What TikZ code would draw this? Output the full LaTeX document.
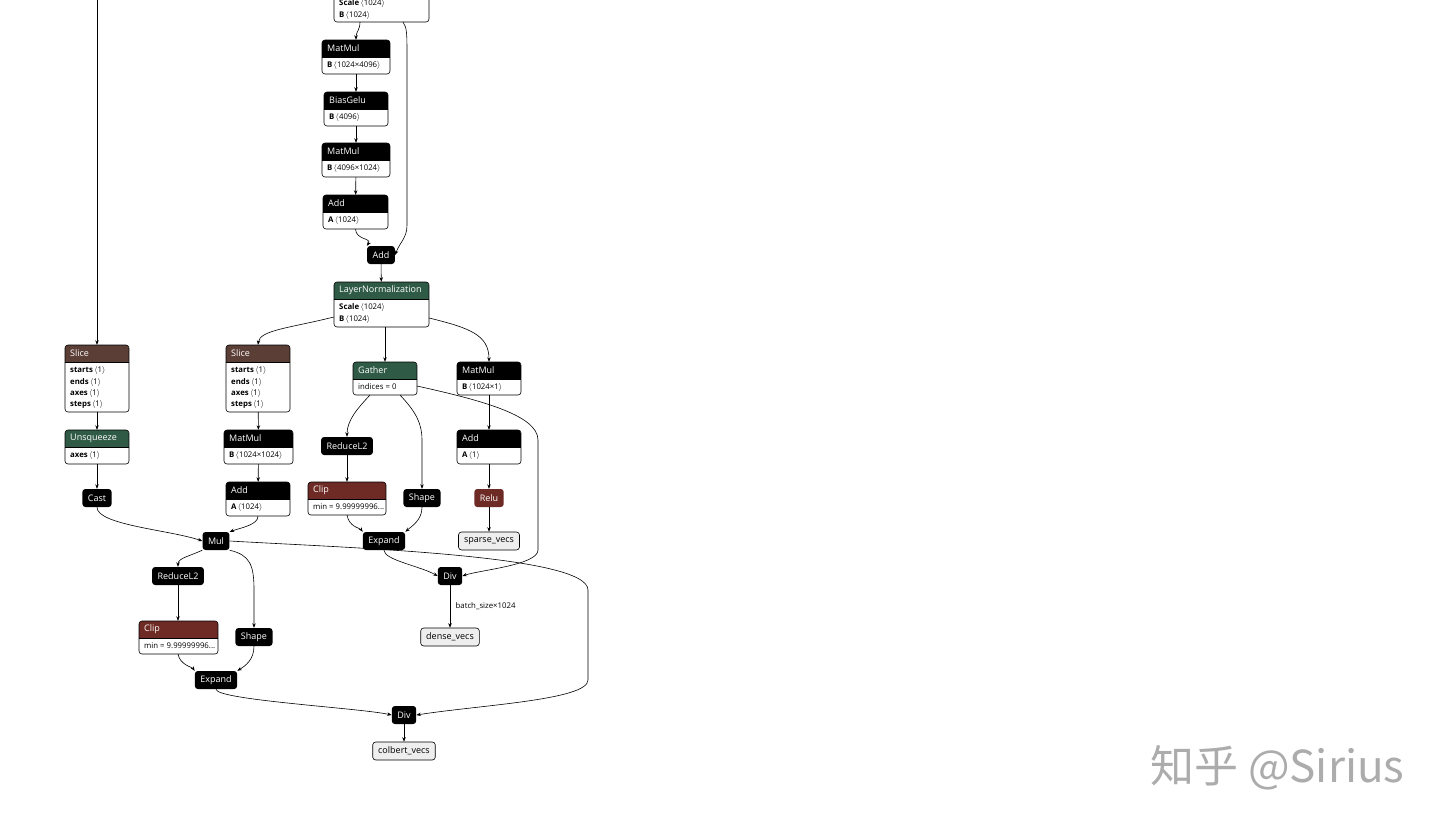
\documentclass[tikz,border=0pt]{standalone}
\usepackage{fontspec}
\setmainfont{Open Sans}
\newfontfamily\cjk{Noto Sans CJK SC}
\usetikzlibrary{fit,arrows.meta}
\definecolor{cslice}{HTML}{5B3F36}
\definecolor{cgreen}{HTML}{2F5A45}
\definecolor{cred}{HTML}{6E2A24}
\definecolor{cgrey}{HTML}{EEEEEE}
\newcommand\opbox[9]{%
 \begin{scope}
 \clip[rounded corners=3] (#2,#3) rectangle (#4,#6);
 \fill[#7] (#2,#3) rectangle (#4,#5);
 \fill[white] (#2,#5) rectangle (#4,#6);
 \end{scope}
 \draw[line width=0.6] (#2,#5)--(#4,#5);
 \draw[rounded corners=3,line width=0.6] (#2,#3) rectangle (#4,#6);
 \node[anchor=west,text=white,font=\fontsize{9}{10}\selectfont,inner sep=0] at ({#2+5},{(#3+#5)/2}) {#8};
 \node[anchor=north west,align=left,font=\fontsize{7.8}{11.3}\selectfont,inner sep=0] at ({#2+5},{#5+4.5}) {#9};
 \node[inner sep=0,fit={(#2,#3)(#4,#6)}] (#1) {};
}
\newcommand\at[2]{\textbf{#1}\,$\langle$#2$\rangle$}
\tikzset{
 sop/.style={fill=black,text=white,rounded corners=3,inner xsep=5.5pt,minimum height=18pt,inner ysep=0pt,font=\fontsize{9}{10}\selectfont},
 rop/.style={sop,fill=cred},
 io/.style={draw,fill=cgrey,rounded corners=3,inner xsep=5.5pt,minimum height=18pt,inner ysep=0pt,font=\fontsize{9}{10}\selectfont,line width=0.6},
 e/.style={-{Stealth[length=4.5pt,width=3.5pt]},line width=0.6}
}
\begin{document}
\begin{tikzpicture}[x=1pt,y=-1pt]
\useasboundingbox[fill=white] (0,0) rectangle (1440,827);
\opbox{ln0}{334}{-22}{429}{-5}{22}{cgreen}{LayerNormalization}{\at{Scale}{1024}\\\at{B}{1024}}
\opbox{mm1}{322}{40}{390}{57}{74}{black}{MatMul}{\at{B}{1024×4096}}
\opbox{bg}{324}{92}{388}{109}{126}{black}{BiasGelu}{\at{B}{4096}}
\opbox{mm2}{322}{143}{390}{160}{177}{black}{MatMul}{\at{B}{4096×1024}}
\opbox{add1}{323}{195}{388}{212}{229}{black}{Add}{\at{A}{1024}}
\node[sop] (add2) at (381,255) {Add};
\opbox{ln}{334}{282}{429}{299}{327}{cgreen}{LayerNormalization}{\at{Scale}{1024}\\\at{B}{1024}}
\opbox{sl1}{65}{345}{129}{362}{412}{cslice}{Slice}{\at{starts}{1}\\\at{ends}{1}\\\at{axes}{1}\\\at{steps}{1}}
\opbox{sl2}{226}{345}{290}{362}{412}{cslice}{Slice}{\at{starts}{1}\\\at{ends}{1}\\\at{axes}{1}\\\at{steps}{1}}
\opbox{unsq}{65}{430}{129}{447}{464}{cgreen}{Unsqueeze}{\at{axes}{1}}
\node[sop] (cast) at (97,498) {Cast};
\opbox{mm3}{224}{430}{293}{447}{464}{black}{MatMul}{\at{B}{1024×1024}}
\opbox{add3}{226}{482}{290}{499}{516}{black}{Add}{\at{A}{1024}}
\opbox{gat}{353}{362}{417}{379}{395}{cgreen}{Gather}{indices = 0}
\opbox{mm4}{457}{362}{521}{379}{395}{black}{MatMul}{\at{B}{1024×1}}
\node[sop] (rl1) at (347,446) {ReduceL2};
\opbox{clip1}{308}{482}{386}{499}{515}{cred}{Clip}{min = 9.99999996...}
\node[sop] (sh1) at (422,498) {Shape};
\opbox{add4}{457}{430}{521}{447}{464}{black}{Add}{\at{A}{1}}
\node[rop] (relu) at (489,498) {Relu};
\node[io] (sparse) at (489,541) {sparse\_vecs};
\node[sop] (exp1) at (384,541) {Expand};
\node[sop] (mul) at (216,541) {Mul};
\node[sop] (div1) at (450,576) {Div};
\node[io] (dense) at (450,637) {dense\_vecs};
\node[sop] (rl2) at (178,576) {ReduceL2};
\opbox{clip2}{139}{621}{218}{638}{654}{cred}{Clip}{min = 9.99999996...}
\node[sop] (sh2) at (254,637) {Shape};
\node[sop] (exp2) at (216,680) {Expand};
\node[sop] (div2) at (404,715) {Div};
\node[io] (colb) at (404,751) {colbert\_vecs};
\node[text=gray!65,font=\cjk\fontsize{44}{50}\selectfont,anchor=west,inner sep=0] at (1150,768) {知乎 @Sirius};
% edges
\coordinate (top) at (97,0);
\draw[e] (top) -- (sl1.north);
\draw[e] (360,22) .. controls (360,30) and (356,32) .. (mm1.north);
\draw[e] (403,22) .. controls (407,28) and (407,32) .. (407,60) -- (407,225) .. controls (407,238) and (400,242) .. (add2.east);
\draw[e] (mm1) -- (bg);
\draw[e] (bg) -- (mm2);
\draw[e] (mm2) -- (add1);
\draw[e] (add1.south) .. controls (356,240) and (372,238) .. (add2.north west);
\draw[e] (add2) -- (ln);
\draw[e] (ln.west |- 0,317) .. controls (290,328) and (260,330) .. (sl2.north);
\draw[e] (385,327) -- (gat.north -| 385,0);
\draw[e] (429,318) .. controls (470,328) and (489,335) .. (mm4.north);
\draw[e] (sl1) -- (unsq);
\draw[e] (unsq) -- (cast);
\draw[e] (cast.south) .. controls (97,525) and (170,530) .. (mul.west);
\draw[e] (sl2) -- (mm3);
\draw[e] (mm3) -- (add3);
\draw[e] (add3.south) .. controls (258,525) and (240,528) .. (mul.north east);
\draw[e] (370,395) .. controls (358,408) and (347,420) .. (rl1.north);
\draw[e] (400,395) .. controls (412,408) and (422,420) .. (422,440) -- (sh1.north);
\draw[e] (417,386) .. controls (480,400) and (538,415) .. (538,440) -- (538,550) .. controls (538,565) and (480,570) .. (div1.east);
\draw[e] (rl1) -- (clip1.north -| rl1);
\draw[e] (347,515) .. controls (349,527) and (360,528) .. (exp1.north west);
\draw[e] (sh1.south) .. controls (422,520) and (412,526) .. (exp1.north east);
\draw[e] (exp1.south) .. controls (384,560) and (420,566) .. (div1.west);
\draw[e] (mm4) -- (add4);
\draw[e] (add4) -- (relu);
\draw[e] (relu) -- (sparse);
\draw[e] (div1) -- node[right,font=\fontsize{7.8}{9}\selectfont,pos=0.5,xshift=2pt]{batch\_size×1024} (dense);
\draw[e] (mul.south west) .. controls (190,556) and (178,558) .. (rl2.north);
\draw[e] (mul.south east) .. controls (250,555) and (254,565) .. (254,590) -- (sh2.north);
\draw[e] (mul.east) .. controls (350,548) and (588,555) .. (588,590) -- (588,680) .. controls (588,700) and (480,705) .. (div2.east);
\draw[e] (rl2) -- (clip2.north -| rl2);
\draw[e] (178,654) .. controls (180,665) and (192,667) .. (exp2.north west);
\draw[e] (sh2.south) .. controls (254,660) and (245,666) .. (exp2.north east);
\draw[e] (exp2.south) .. controls (216,700) and (360,708) .. (div2.west);
\draw[e] (div2) -- (colb);
\end{tikzpicture}
\end{document}
